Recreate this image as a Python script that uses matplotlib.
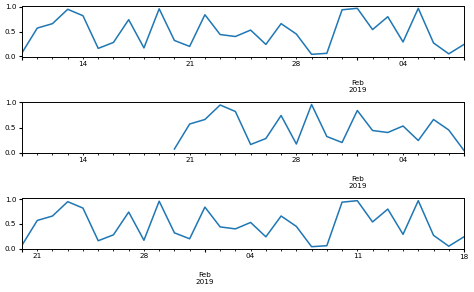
import matplotlib
matplotlib.use("Agg")
import matplotlib.pyplot as plt
from matplotlib.transforms import ScaledTranslation
import numpy as np
import pandas as pd

plt.rcParams['font.size'] = 5.2
plt.rcParams['xtick.major.size'] = 2.5
plt.rcParams['xtick.minor.size'] = 1.2
plt.rcParams['ytick.major.size'] = 2
plt.rcParams['xtick.major.pad'] = 1.1
plt.rcParams['xtick.minor.pad'] = 1.6
plt.rcParams['ytick.major.pad'] = 2.2
plt.rcParams['axes.linewidth'] = 0.7

# daily values
values = [0.07, 0.57, 0.66, 0.95, 0.82, 0.16, 0.28, 0.74, 0.17, 0.96,
          0.32, 0.20, 0.84, 0.44, 0.40, 0.53, 0.24, 0.66, 0.45, 0.04,
          0.06, 0.94, 0.97, 0.54, 0.80, 0.29, 0.97, 0.27, 0.05, 0.24]
start_top = '2019-01-10'
start_shift = '2019-01-20'

s1 = pd.Series(values, index=pd.date_range(start_top, periods=len(values), freq='D'))
s2 = pd.Series(values, index=pd.date_range(start_shift, periods=len(values), freq='D'))
s_mid = s2[:'2019-02-08']

fig, axes = plt.subplots(3, 1, figsize=(4.74, 2.92), dpi=100)
s1.plot(ax=axes[0], color='tab:blue', lw=1.1)
s_mid.plot(ax=axes[1], color='tab:blue', lw=1.1)
axes[1].set_xlim(axes[0].get_xlim())
s2.plot(ax=axes[2], color='tab:blue', lw=1.1)

for ax in axes:
    ax.set_xlabel('')
    ax.set_yticks([0.0, 0.5, 1.0])

fig.subplots_adjust(left=22/474, right=464/474, top=1-6/292, bottom=1-249/292, hspace=0.9)

# push the month/year label a little further down
fig.canvas.draw()
shift = ScaledTranslation(0, -0.04, fig.dpi_scale_trans)
for ax in axes:
    for t in ax.xaxis.get_major_ticks():
        if 'Feb' in t.label1.get_text():
            t.label1.set_transform(t.label1.get_transform() + shift)

fig.savefig('out.png', dpi=100)
